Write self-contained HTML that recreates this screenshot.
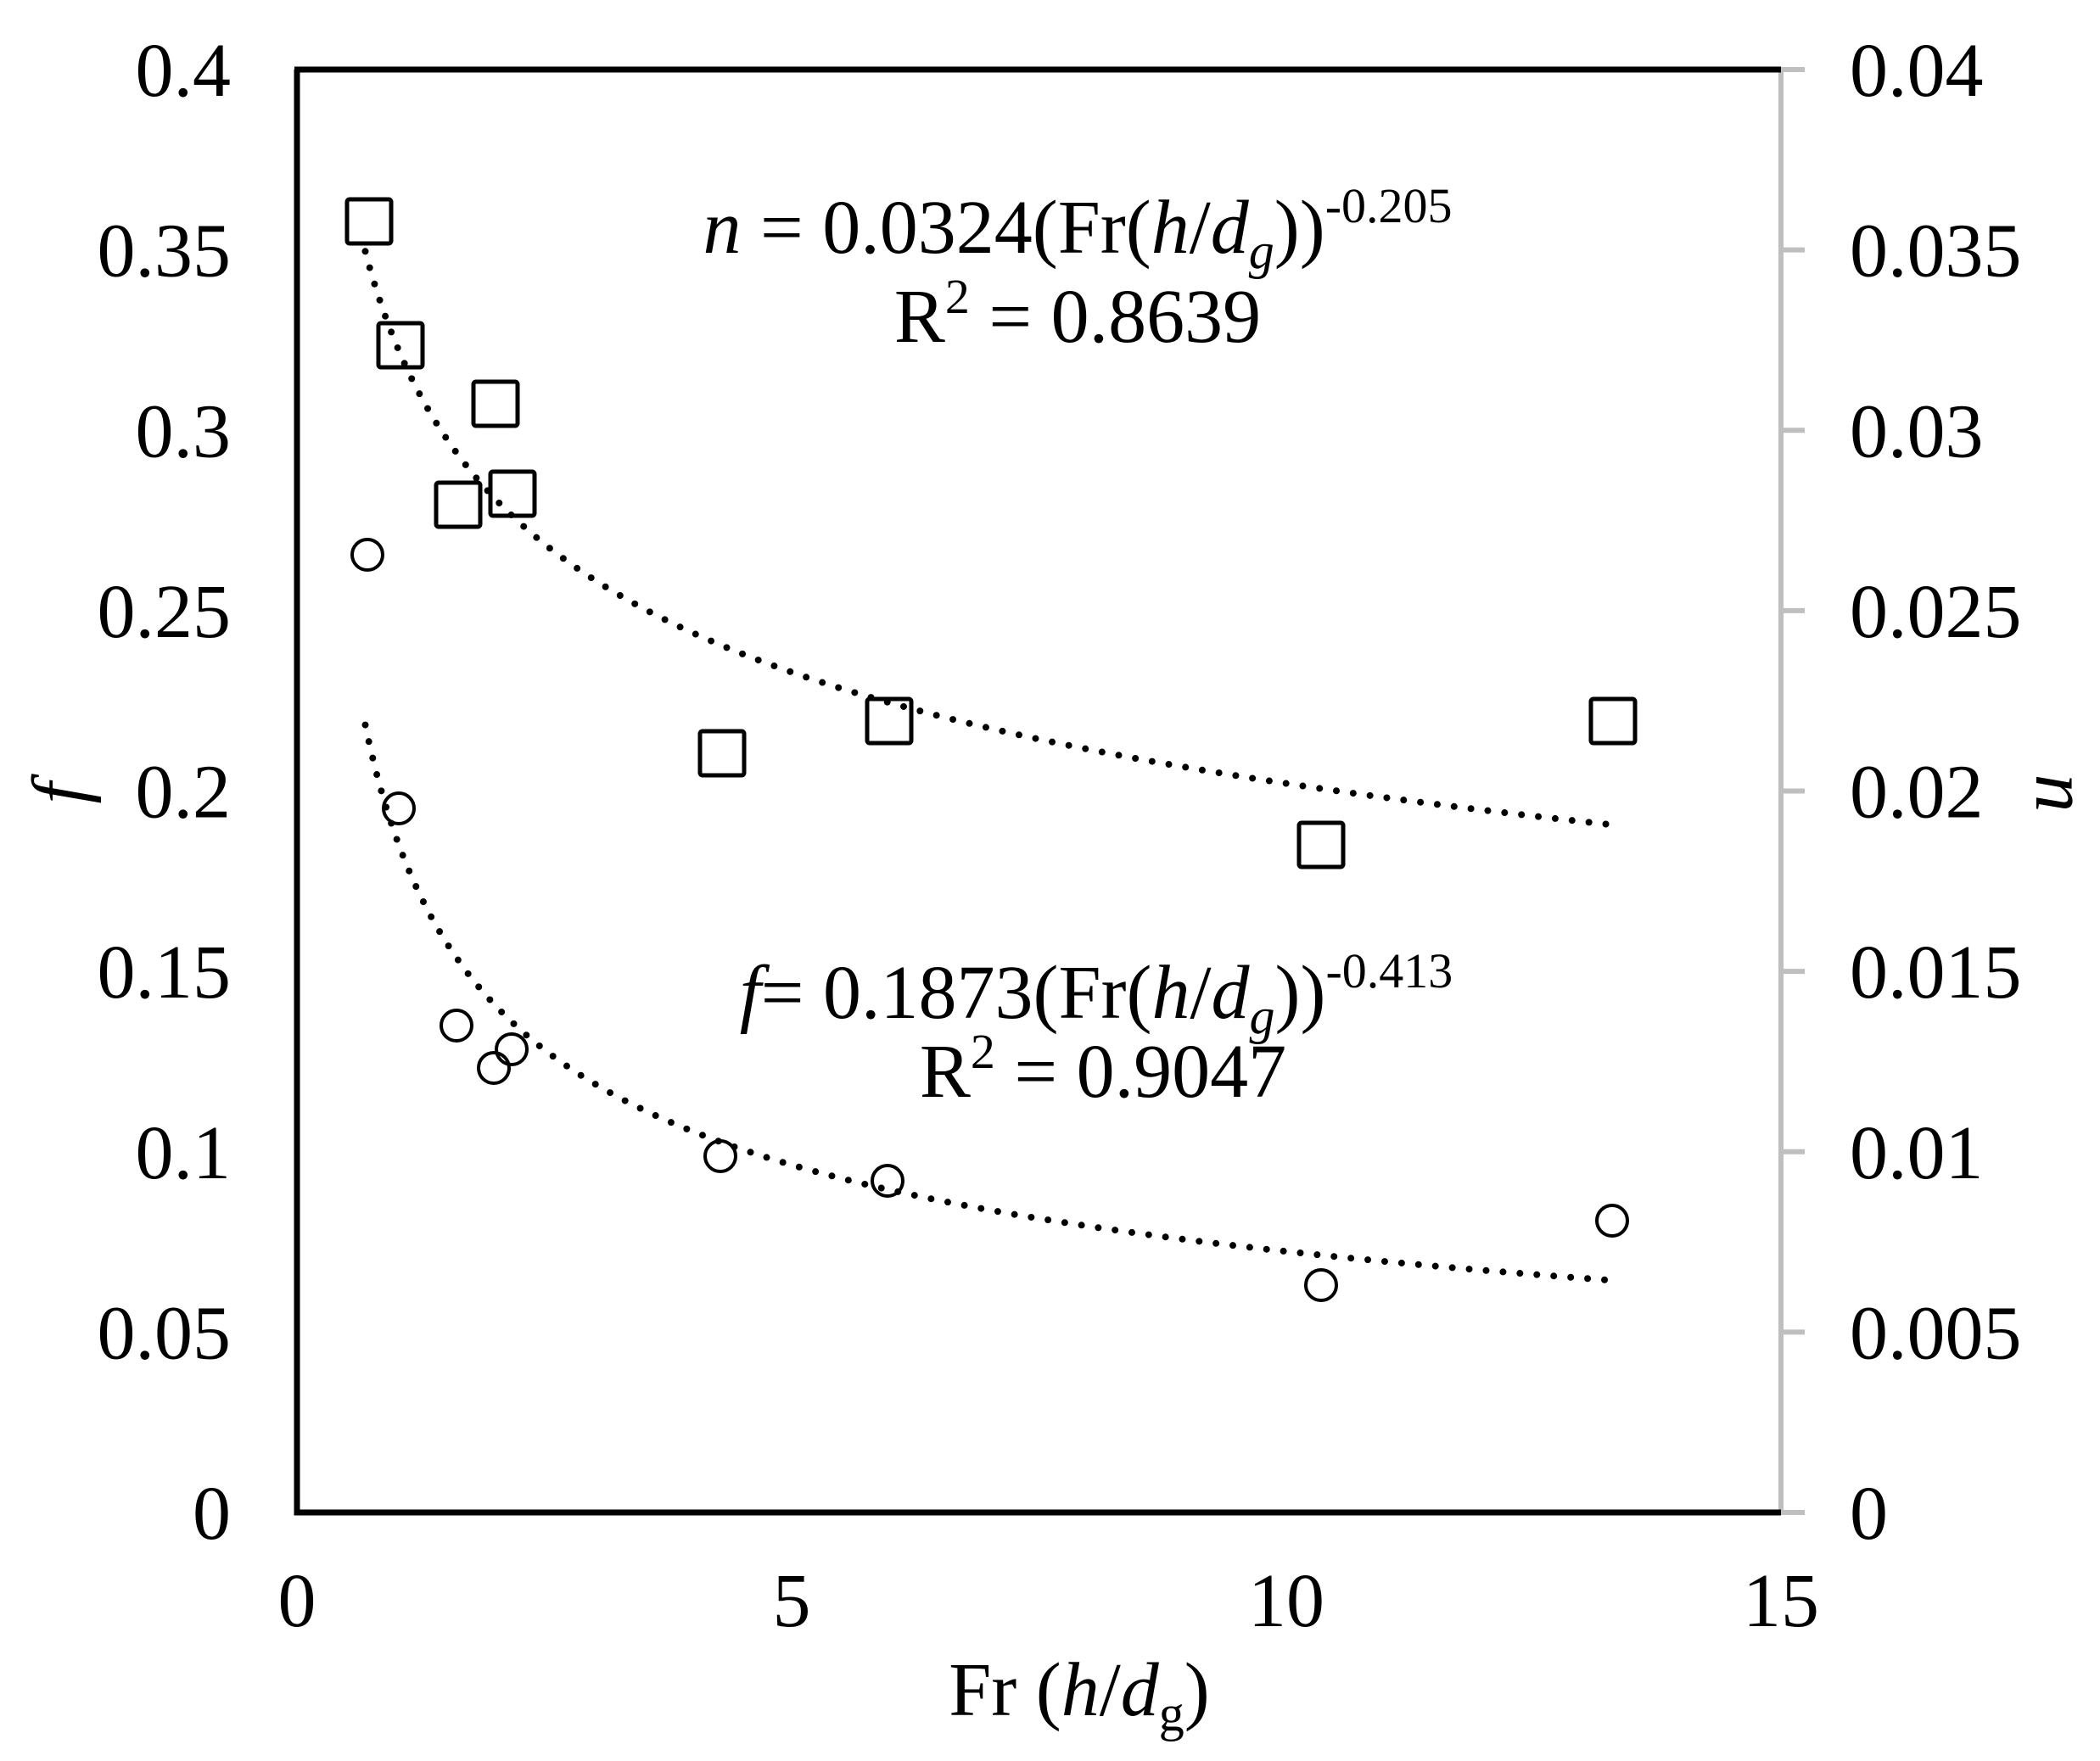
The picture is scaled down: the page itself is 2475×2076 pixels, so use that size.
<!DOCTYPE html>
<html><head><meta charset="utf-8"><style>
html,body{margin:0;padding:0;background:#fff;}
svg{display:block;}
text{font-family:"Liberation Serif",serif;font-size:90px;fill:#000;}
</style></head><body>
<svg id="s" width="2475" height="2076" viewBox="0 0 2475 2076" xmlns="http://www.w3.org/2000/svg">
<rect x="0" y="0" width="2475" height="2076" fill="#fff"/>
<g id="ticks" stroke="#bfbfbf" stroke-width="6"></g>
<line x1="2099" y1="82" x2="2099" y2="1783" stroke="#bfbfbf" stroke-width="6"/>
<polyline points="350,82 350,1783 2099,1783" fill="none" stroke="#000" stroke-width="7"/>
<line x1="347" y1="82" x2="2099" y2="82" stroke="#000" stroke-width="7"/>
<g id="lbl"></g>
<path id="tn" fill="none" stroke="#000" stroke-width="8" stroke-linecap="round" stroke-dasharray="0 20"/>
<path id="tf" fill="none" stroke="#000" stroke-width="8" stroke-linecap="round" stroke-dasharray="0 20"/>
<g id="pts" fill="none" stroke="#000"></g>

<text x="1270" y="298" text-anchor="middle"><tspan font-style="italic">n</tspan> = 0.0324(Fr(<tspan font-style="italic">h</tspan>/<tspan font-style="italic">d</tspan><tspan font-style="italic" font-size="60" dy="18">g</tspan><tspan dy="-18">))</tspan><tspan font-size="58" dy="-36">-0.205</tspan></text>
<text x="1270" y="403" text-anchor="middle">R<tspan font-size="58" dy="-34">2</tspan><tspan dy="34"> = 0.8639</tspan></text>
<text x="1292" y="1200" text-anchor="middle"><tspan font-style="italic">f</tspan>= 0.1873(Fr(<tspan font-style="italic">h</tspan>/<tspan font-style="italic">d</tspan><tspan font-style="italic" font-size="60" dy="18">g</tspan><tspan dy="-18">))</tspan><tspan font-size="58" dy="-36">-0.413</tspan></text>
<text x="1300" y="1293" text-anchor="middle">R<tspan font-size="58" dy="-34">2</tspan><tspan dy="34"> = 0.9047</tspan></text>

<text x="1272" y="2022" text-anchor="middle">Fr (<tspan font-style="italic">h</tspan>/<tspan font-style="italic">d</tspan><tspan font-size="60" dy="18">g</tspan><tspan dy="-18">)</tspan></text>
<text transform="translate(100,935) rotate(-90)" text-anchor="middle" font-style="italic">f</text>
<text transform="translate(2400,935) rotate(90)" text-anchor="middle" font-style="italic">n</text>
</svg>
<script>
var NS="http://www.w3.org/2000/svg";
function X(x){return 350+x*116.6;}
function Yf(y){return 1783-y*4252.5;}
var lbl=document.getElementById('lbl'),tk=document.getElementById('ticks');
function T(x,y,s,a){var t=document.createElementNS(NS,'text');t.setAttribute('x',x);t.setAttribute('y',y);t.setAttribute('text-anchor',a);t.textContent=s;lbl.appendChild(t);}
var L=['0','0.05','0.1','0.15','0.2','0.25','0.3','0.35','0.4'];
var R=['0','0.005','0.01','0.015','0.02','0.025','0.03','0.035','0.04'];
for(var i=0;i<9;i++){var y=Yf(i*0.05);T(272,y+31,L[i],'end');T(2180,y+31,R[i],'start');
var l=document.createElementNS(NS,'line');l.setAttribute('x1',2099);l.setAttribute('x2',2127);l.setAttribute('y1',y);l.setAttribute('y2',y);tk.appendChild(l);}
[0,5,10,15].forEach(function(v){T(X(v),1917,String(v),'middle');});
function tr(a,b,k){var d='';for(var x=0.69;x<=13.28;x+=0.02){var y=a*Math.pow(x,b)*k;d+=(d?'L':'M')+X(x).toFixed(1)+','+Yf(y).toFixed(1);}return d;}
document.getElementById('tn').setAttribute('d',tr(0.0324,-0.205,10));
document.getElementById('tf').setAttribute('d',tr(0.1873,-0.413,1));
var pts=document.getElementById('pts');
var sq=[[435,261],[472,407],[584,476],[540,595],[604,582],[851,888],[1048,850],[1557,996],[1901,850]];
var ci=[[433,654],[470,953],[538,1209],[582,1259],[603,1237],[849,1363],[1046,1392],[1557,1515],[1900,1439]];
sq.forEach(function(p){var r=document.createElementNS(NS,'rect');r.setAttribute('x',p[0]-26);r.setAttribute('y',p[1]-26);r.setAttribute('width',52);r.setAttribute('height',52);r.setAttribute('rx',3);r.setAttribute('stroke-width',5);pts.appendChild(r);});
ci.forEach(function(p){var c=document.createElementNS(NS,'circle');c.setAttribute('cx',p[0]);c.setAttribute('cy',p[1]);c.setAttribute('r',18);c.setAttribute('stroke-width',4);pts.appendChild(c);});
</script>
</body></html>
